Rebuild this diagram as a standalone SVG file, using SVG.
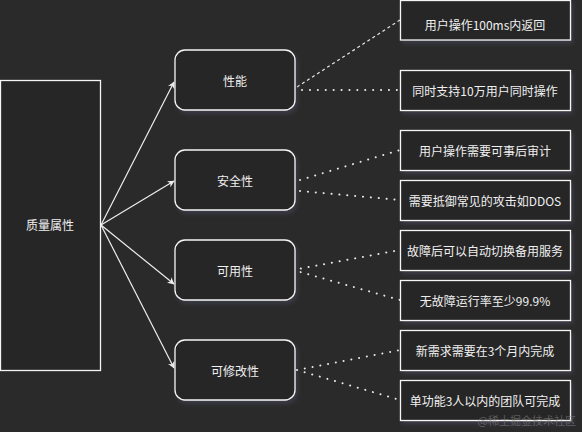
<svg xmlns="http://www.w3.org/2000/svg" width="582" height="432" viewBox="0 0 582 432">
<defs>
<style>
.t{font-family:"Noto Sans CJK SC","Liberation Sans",sans-serif;font-size:12px;fill:#f0f0f0;text-anchor:middle;dominant-baseline:central}
.box{fill:#262626;stroke:#f5f5f5;stroke-width:1.3}
.arr{stroke:#eeeeee;stroke-width:1.2;fill:none;marker-end:url(#ah)}
.dot{stroke:#e8e8e8;stroke-width:2;stroke-linecap:round;stroke-dasharray:0.1 7.8;fill:none}
.dash{stroke:#e8e8e8;stroke-width:1.2;stroke-dasharray:3 3;fill:none}
</style>
<marker id="ah" viewBox="0 0 10 10" refX="9" refY="5" markerWidth="7" markerHeight="7" orient="auto" markerUnits="userSpaceOnUse">
<path d="M0,0 L10,5 L0,10 L3,5 Z" fill="#eeeeee"/>
</marker>
<filter id="sh" x="-20%" y="-20%" width="140%" height="140%">
<feDropShadow dx="2" dy="3" stdDeviation="2" flood-color="#5a5a80" flood-opacity="0.35"/>
</filter>
</defs>
<rect width="582" height="432" fill="#2a2a2a"/>
<g id="connectors">
<line class="arr" x1="101" y1="225" x2="174" y2="82"/>
<line class="arr" x1="101" y1="225" x2="174" y2="181"/>
<line class="arr" x1="101" y1="225" x2="174" y2="284"/>
<line class="arr" x1="101" y1="225" x2="174" y2="368"/>
<line class="dash" x1="297" y1="87" x2="400" y2="20"/>
<line class="dot" x1="302" y1="90" x2="400" y2="90"/>
<line class="dot" x1="300" y1="180" x2="400" y2="150"/>
<line class="dot" x1="300" y1="191" x2="400" y2="200"/>
<line class="dot" x1="293" y1="270" x2="400" y2="250"/>
<line class="dot" x1="293" y1="270" x2="400" y2="300"/>
<line class="dot" x1="297" y1="370" x2="400" y2="350"/>
<line class="dot" x1="297" y1="370" x2="400" y2="400"/>
</g>
<g id="root"><rect class="box" x="0.5" y="80.5" width="100" height="290" fill="#262626"/><text class="t" x="50" y="224">质量属性</text></g>
<g id="perf"><rect class="box" x="175" y="50" width="120" height="60" rx="10" filter="url(#sh)"/><text class="t" x="235" y="80">性能</text></g>
<g id="sec"><rect class="box" x="175" y="150" width="120" height="60" rx="10" filter="url(#sh)"/><text class="t" x="235" y="180">安全性</text></g>
<g id="avail"><rect class="box" x="175" y="240" width="120" height="60" rx="10" filter="url(#sh)"/><text class="t" x="235" y="270">可用性</text></g>
<g id="modi"><rect class="box" x="175" y="340" width="120" height="60" rx="10" filter="url(#sh)"/><text class="t" x="235" y="370">可修改性</text></g>
<g id="r1"><rect class="box" x="400.5" y="0.5" width="170" height="39.5" filter="url(#sh)"/><text class="t" x="485" y="24">用户操作100ms内返回</text></g>
<g id="r2"><rect class="box" x="400.5" y="70.5" width="170" height="40" filter="url(#sh)"/><text class="t" x="485" y="90">同时支持10万用户同时操作</text></g>
<g id="r3"><rect class="box" x="400.5" y="130.5" width="170" height="40" filter="url(#sh)"/><text class="t" x="485" y="150">用户操作需要可事后审计</text></g>
<g id="r4"><rect class="box" x="400.5" y="180.5" width="170" height="40" filter="url(#sh)"/><text class="t" x="485" y="200">需要抵御常见的攻击如DDOS</text></g>
<g id="r5"><rect class="box" x="400.5" y="230.5" width="170" height="40" filter="url(#sh)"/><text class="t" x="485" y="250">故障后可以自动切换备用服务</text></g>
<g id="r6"><rect class="box" x="400.5" y="280.5" width="170" height="40" filter="url(#sh)"/><text class="t" x="485" y="300">无故障运行率至少99.9%</text></g>
<g id="r7"><rect class="box" x="400.5" y="330.5" width="170" height="40" filter="url(#sh)"/><text class="t" x="485" y="350">新需求需要在3个月内完成</text></g>
<g id="r8"><rect class="box" x="400.5" y="380.5" width="170" height="40" filter="url(#sh)"/><text class="t" x="485" y="400">单功能3人以内的团队可完成</text></g>
<text x="576" y="420" font-family="'Noto Sans CJK SC','Liberation Serif',serif" font-size="11" fill="#8a8a8a" fill-opacity="0.55" text-anchor="end" dominant-baseline="central">@稀土掘金技术社区</text>
</svg>
